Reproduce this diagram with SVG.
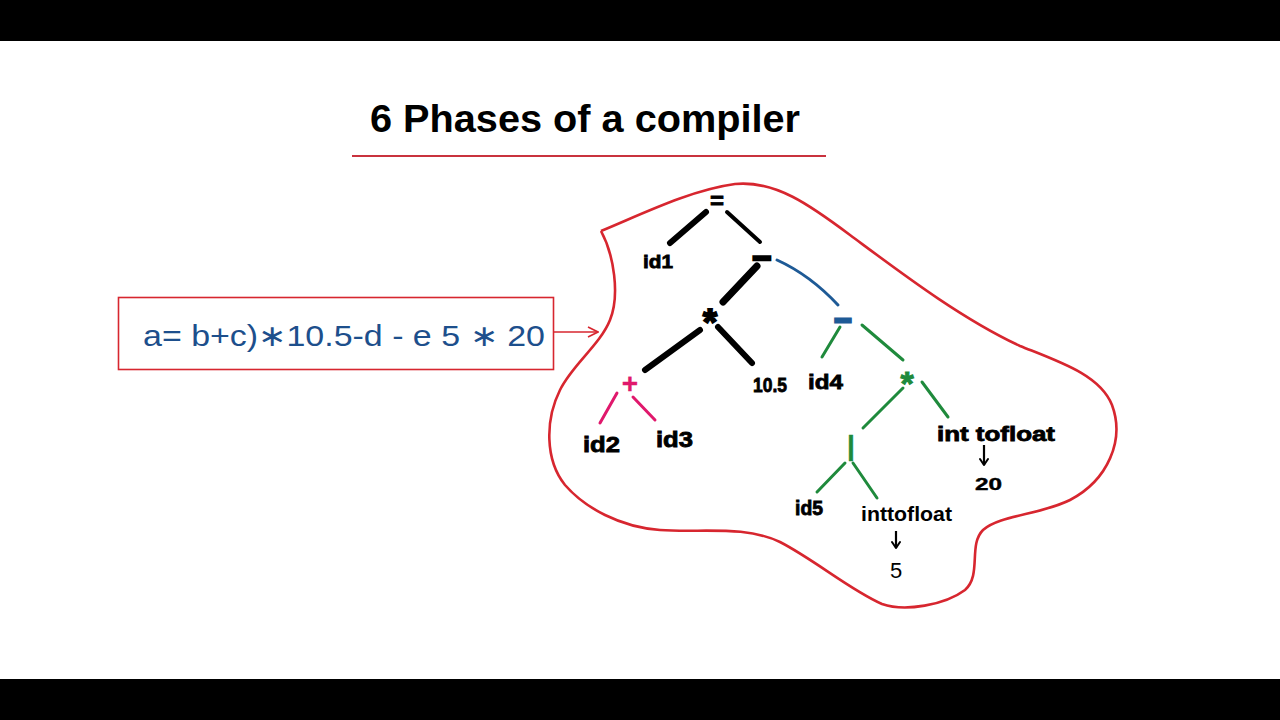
<svg xmlns="http://www.w3.org/2000/svg" width="1280" height="720" viewBox="0 0 1280 720">
<defs>
<marker id="openArrow" viewBox="0 0 12 12" refX="11" refY="6" markerWidth="12" markerHeight="12" markerUnits="userSpaceOnUse" orient="auto">
<path d="M1,1 L11,6 L1,11" fill="none" stroke="#d7262f" stroke-width="1.6"/>
</marker>
<marker id="downArrow" viewBox="0 0 10 10" refX="9" refY="5" markerWidth="10" markerHeight="10" markerUnits="userSpaceOnUse" orient="auto">
<path d="M3,1 L9,5 L3,9" fill="none" stroke="#000" stroke-width="2" stroke-linecap="round" stroke-linejoin="round"/>
</marker>
<style>
.bar{fill:#000}
.title{font-family:"Liberation Sans",Arial,sans-serif;font-weight:bold;font-size:38px;fill:#000}
.expr{font-family:"Liberation Sans",Arial,sans-serif;font-size:30px;fill:#1d4f8c}
.lbl{font-family:"Liberation Sans",Arial,sans-serif;font-weight:bold;fill:#000;stroke:#000;stroke-width:0.8}
.lbl.pk{fill:#e0186c;stroke:#e0186c;stroke-width:0.3}
.lbl.bl{fill:#1e5a96;stroke:#1e5a96;stroke-width:3}
.lbl.gr{fill:#1f8a3c;stroke:#1f8a3c;stroke-width:1}
.thin{font-family:"Liberation Sans",Arial,sans-serif;fill:#000}
.edge{fill:none;stroke-linecap:round}
.k{stroke:#000}
.b{stroke:#1e5a96}
.g{stroke:#1f8a3c}
.p{stroke:#e0186c}
.red{fill:none;stroke:#d7262f}
</style>
</defs>
<rect x="0" y="0" width="1280" height="720" fill="#fff"/>
<rect class="bar" x="0" y="0" width="1280" height="41"/>
<rect class="bar" x="0" y="679" width="1280" height="41"/>

<g id="title">
<text class="title" x="370" y="132" textLength="430" lengthAdjust="spacingAndGlyphs">6 Phases of a compiler</text>
<line x1="352" y1="156" x2="826" y2="156" stroke="#c9323e" stroke-width="2.2"/>
</g>

<g id="expression">
<rect class="red" x="118.5" y="297.5" width="435" height="72" stroke-width="1.6"/>
<text class="expr" x="143" y="346" textLength="402" lengthAdjust="spacingAndGlyphs">a= b+c)∗10.5-d - e  5 ∗ 20</text>
</g>

<g id="blob">
<path class="red" stroke-width="2.6" stroke-linejoin="round" d="M601,231 C640,215 690,190 735,184 C775,180 810,205 850,235 C900,272 960,318 1020,346 C1060,362 1100,375 1112,405 C1125,440 1108,480 1070,500 C1040,515 1000,515 983,530 C968,545 982,575 965,590 C945,605 905,612 882,604 C850,590 815,560 780,542 C745,525 700,533 660,530 C620,527 585,508 565,485 C545,460 545,420 560,390 C572,365 600,345 610,320 C620,295 614,255 601,231"/>
</g>

<g id="connectors">
<line x1="553" y1="332" x2="598" y2="332" stroke="#d7262f" stroke-width="1.6" marker-end="url(#openArrow)"/>
<line class="edge k" x1="706" y1="212" x2="670" y2="243" stroke-width="6"/>
<line class="edge k" x1="727" y1="212" x2="760" y2="242" stroke-width="4"/>
<line class="edge k" x1="757" y1="266" x2="723" y2="302" stroke-width="7"/>
<line class="edge k" x1="700" y1="330" x2="645" y2="370" stroke-width="6"/>
<line class="edge k" x1="718" y1="327" x2="752" y2="363" stroke-width="6"/>
<path class="edge b" d="M777,260 Q810,275 838,305" stroke-width="3"/>
<line class="edge g" x1="840" y1="327" x2="822" y2="357" stroke-width="3"/>
<line class="edge g" x1="862" y1="325" x2="903" y2="360" stroke-width="3"/>
<line class="edge g" x1="903" y1="388" x2="863" y2="428" stroke-width="3"/>
<line class="edge g" x1="922" y1="382" x2="948" y2="417" stroke-width="3"/>
<line class="edge g" x1="845" y1="463" x2="817" y2="492" stroke-width="3"/>
<line class="edge g" x1="853" y1="463" x2="877" y2="498" stroke-width="3"/>
<line class="edge p" x1="617" y1="393" x2="600" y2="423" stroke-width="3"/>
<line class="edge p" x1="633" y1="397" x2="655" y2="420" stroke-width="3"/>
<line x1="984" y1="445" x2="984" y2="465" stroke="#000" stroke-width="2.2" marker-end="url(#downArrow)"/>
<line x1="896" y1="531" x2="896" y2="548" stroke="#000" stroke-width="2.2" marker-end="url(#downArrow)"/>
</g>

<g id="n-assign"><text class="lbl" x="717" y="209" font-size="24" text-anchor="middle">=</text></g>
<g id="n-id1"><text class="lbl" x="643" y="268" font-size="19" textLength="30" lengthAdjust="spacingAndGlyphs">id1</text></g>
<g id="n-minus1"><text class="lbl" x="762" y="268" font-size="30" text-anchor="middle" style="stroke-width:2.5" textLength="19" lengthAdjust="spacingAndGlyphs">−</text></g>
<g id="n-mul1"><text class="lbl" x="710" y="335" font-size="36" text-anchor="middle" style="stroke-width:2">*</text></g>
<g id="n-plus"><text class="lbl pk" x="630" y="393" font-size="28" text-anchor="middle">+</text></g>
<g id="n-id2"><text class="lbl" x="583" y="452" font-size="22" textLength="37" lengthAdjust="spacingAndGlyphs">id2</text></g>
<g id="n-id3"><text class="lbl" x="656" y="447" font-size="22" textLength="37" lengthAdjust="spacingAndGlyphs">id3</text></g>
<g id="n-105"><text class="lbl" x="753" y="392" font-size="20" textLength="34" lengthAdjust="spacingAndGlyphs">10.5</text></g>
<g id="n-minus2"><text class="lbl bl" x="843" y="330" font-size="28" text-anchor="middle" textLength="17" lengthAdjust="spacingAndGlyphs">−</text></g>
<g id="n-id4"><text class="lbl" x="808" y="389" font-size="21" textLength="35" lengthAdjust="spacingAndGlyphs">id4</text></g>
<g id="n-mul2"><text class="lbl gr" x="907" y="395" font-size="34" text-anchor="middle">*</text></g>
<g id="n-div"><text class="lbl gr" x="851" y="455" font-size="28" text-anchor="middle" style="stroke-width:0.5">|</text></g>
<g id="n-i2f20"><text class="lbl" x="937" y="441" font-size="20" textLength="118" lengthAdjust="spacingAndGlyphs">int tofloat</text></g>
<g id="n-20"><text class="lbl" x="975" y="490" font-size="16" textLength="27" lengthAdjust="spacingAndGlyphs" style="stroke-width:0.4">20</text></g>
<g id="n-id5"><text class="lbl" x="795" y="515" font-size="20" textLength="28" lengthAdjust="spacingAndGlyphs">id5</text></g>
<g id="n-i2f5"><text class="thin" x="861" y="521" font-size="20" font-weight="bold" textLength="91" lengthAdjust="spacingAndGlyphs">inttofloat</text></g>
<g id="n-5"><text class="thin" x="896" y="578" font-size="22" text-anchor="middle">5</text></g>
</svg>
